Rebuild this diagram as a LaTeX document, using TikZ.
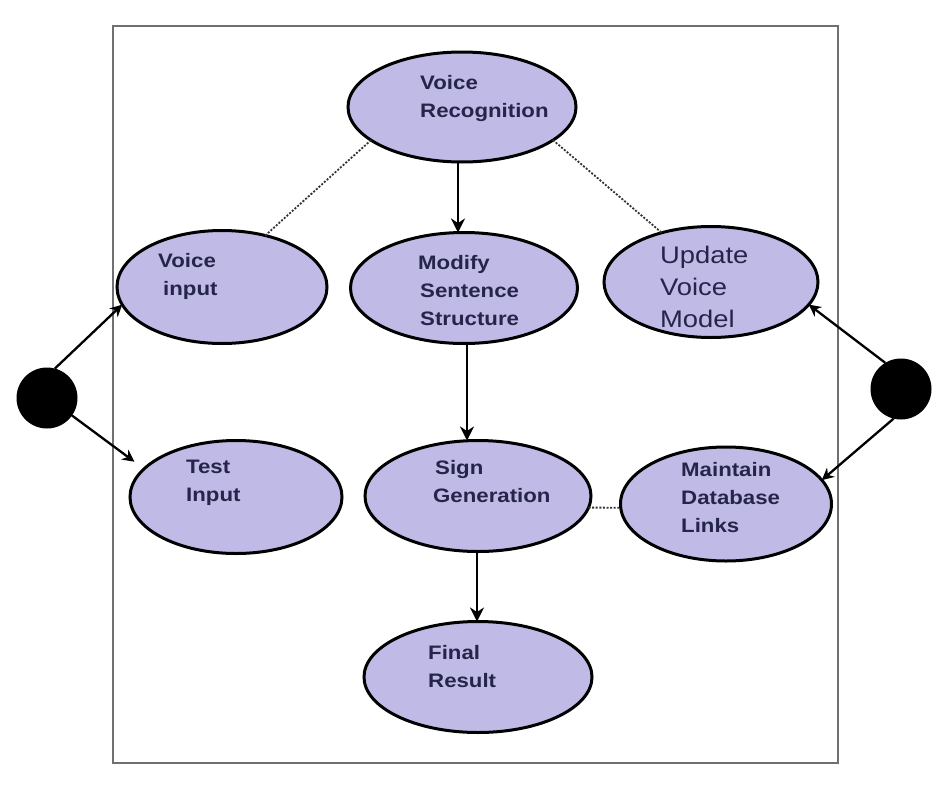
\documentclass[tikz,border=0pt]{standalone}
\usepackage{fontspec}
\setmainfont[FakeStretch=1.14]{Liberation Sans}
\usetikzlibrary{shapes.geometric,arrows.meta}
\definecolor{fillc}{HTML}{C0BAE6}
\definecolor{txt}{HTML}{25254A}
\definecolor{framec}{HTML}{707070}
\tikzset{
  x=1pt,y=-1pt,
  uc/.style={ellipse,draw=black,line width=3pt,fill=fillc,inner sep=0pt,outer sep=0pt},
  lbl/.style={font=\bfseries\fontsize{19.5}{28}\selectfont,text=txt,anchor=west,align=left,inner sep=0pt},
  actor/.style={circle,fill=black,minimum size=61pt,inner sep=0pt,outer sep=0pt},
  flow/.style={draw=black,line width=2.3pt,-{Stealth[length=14pt,width=14pt]}},
  flowb/.style={draw=black,line width=2.3pt,-{Stealth[length=12pt,width=12pt]}},
  dots/.style={draw=black!80,line width=1.8pt,dash pattern=on 2pt off 1.6pt}
}
\begin{document}
\begin{tikzpicture}
\useasboundingbox (0,0) rectangle (940,790);
\fill[white] (0,0) rectangle (940,790);
\node[draw=framec,line width=2pt,minimum width=725pt,minimum height=737pt,inner sep=0pt] (frame) at (475.5,394) {};
\node[uc,minimum width=228pt,minimum height=110pt] (vr) at (462,107) {};
\node[uc,minimum width=210pt,minimum height=113pt] (vi) at (222,287) {};
\node[uc,minimum width=227pt,minimum height=111pt] (ms) at (464,288) {};
\node[uc,minimum width=214pt,minimum height=111pt] (uv) at (711,282) {};
\node[uc,minimum width=212pt,minimum height=113pt] (ti) at (236,497) {};
\node[uc,minimum width=226pt,minimum height=111pt] (sg) at (478,496) {};
\node[uc,minimum width=211pt,minimum height=114pt] (md) at (726,504) {};
\node[uc,minimum width=228pt,minimum height=111pt] (fr) at (478,677) {};
\node[actor] (a1) at (47,398) {};
\node[actor] (a2) at (901,389) {};
\node[lbl] (tvr) at (420,98) {Voice\\Recognition};
\node[lbl] (tvi) at (158,276.5) {Voice\\\hspace*{5pt}input};
\node[lbl] (tms) at (418,291) {Modify\\\hspace*{2pt}Sentence\\\hspace*{2pt}Structure};
\node[lbl,font=\fontsize{24}{32}\selectfont] (tuv) at (660,287) {Update\\Voice\\Model};
\node[lbl] (tti) at (186,483) {Test\\Input};
\node[lbl] (tsg) at (433,482) {\hspace*{2pt}Sign\\Generation};
\node[lbl] (tmd) at (681,498) {Maintain\\Database\\Links};
\node[lbl] (tfr) at (428,666.5) {Final\\Result};
\draw[dots] (vr.200) -- (vi.50);
\draw[dots] (vr.-20) -- (uv.135);
\draw[dots] (sg.-6) -- (md.182);
\draw[flow] (vr.south-|458,0) -- (ms.north-|458,0);
\draw[flow] (ms.south-|467,0) -- (sg.north-|467,0);
\draw[flow] (sg.south-|477,0) -- (fr.north-|477,0);
\draw[flowb] (a1.75) -- (vi.190);
\draw[flowb,shorten >=12pt] (a1.-35) -- (ti.163);
\draw[flowb] (a2.121) -- (uv.-13);
\draw[flowb] (a2.-104) -- (md.14);
\end{tikzpicture}
\end{document}
